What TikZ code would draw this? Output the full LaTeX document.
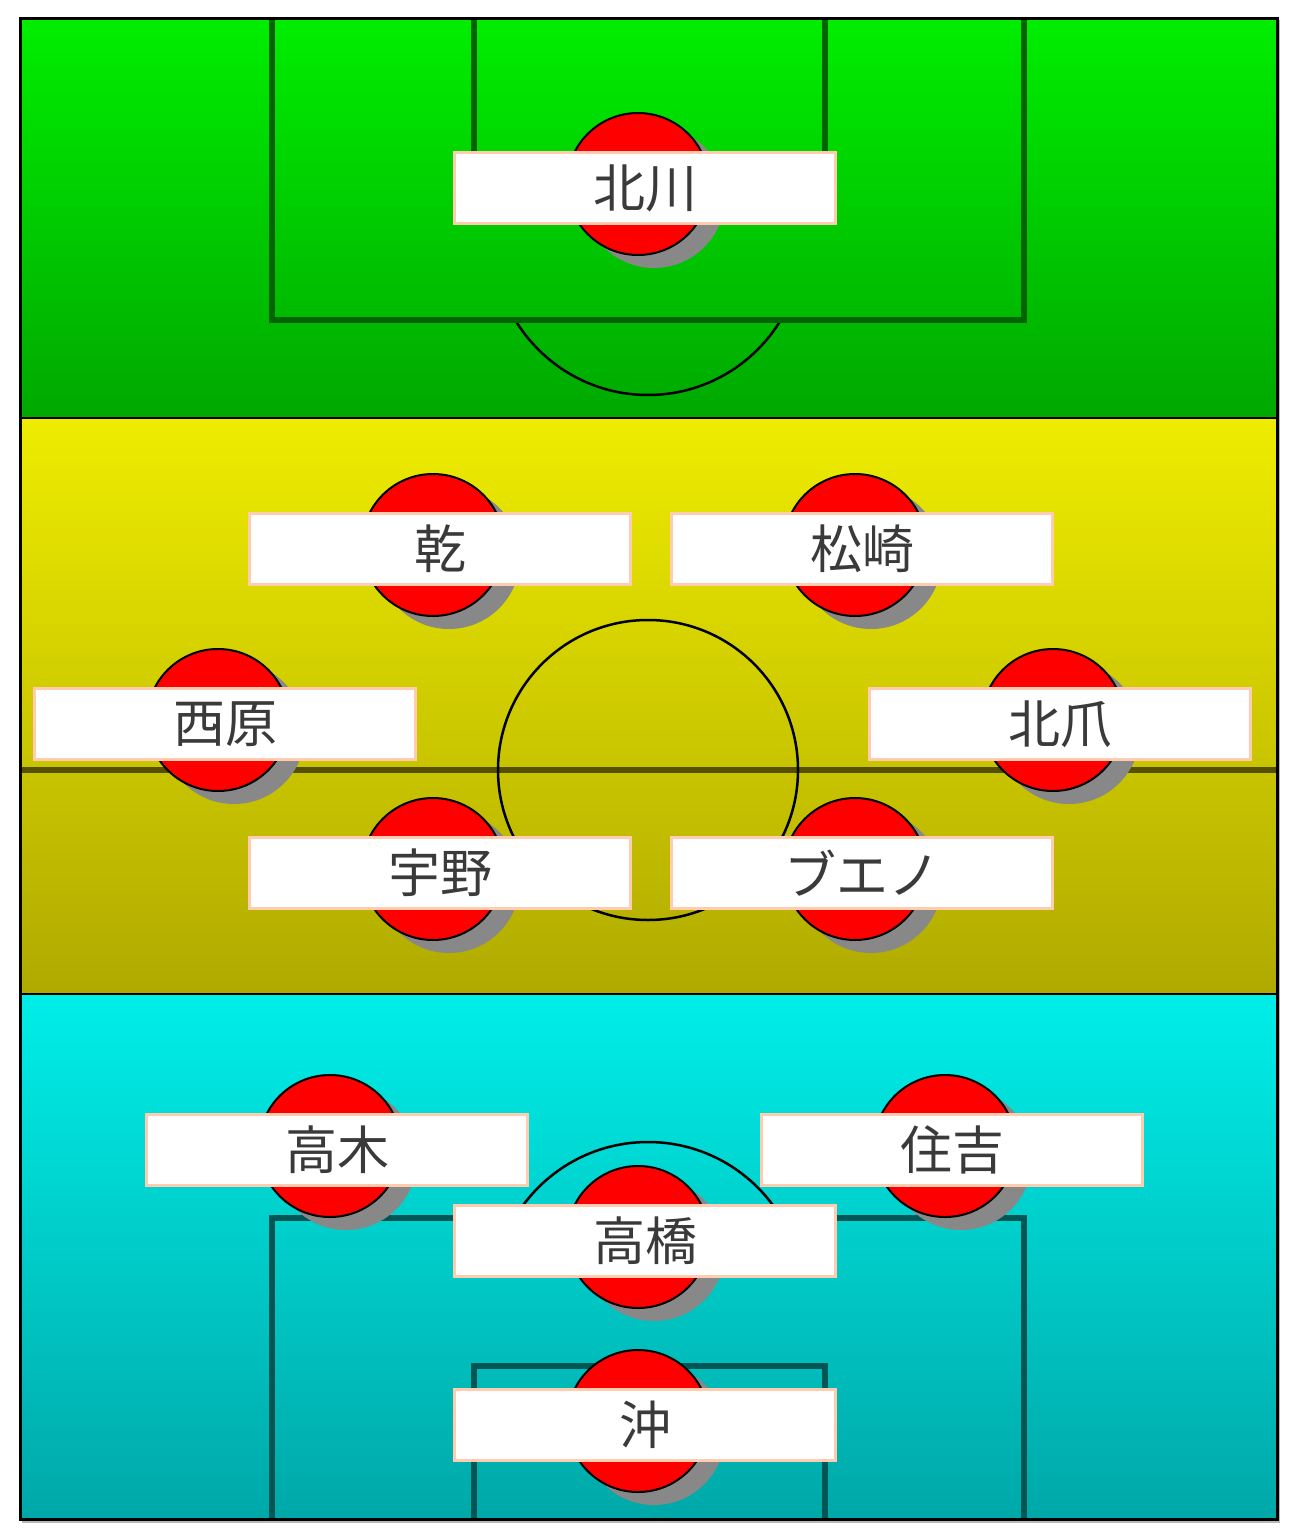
\documentclass[tikz,border=0pt]{standalone}
\usepackage{fontspec}
\newfontfamily\cjk{Noto Sans CJK JP}
\definecolor{gtop}{RGB}{0,238,0}
\definecolor{gbot}{RGB}{0,168,0}
\definecolor{ytop}{RGB}{238,236,0}
\definecolor{ybot}{RGB}{176,170,0}
\definecolor{ctop}{RGB}{0,238,232}
\definecolor{cbot}{RGB}{0,168,168}
\definecolor{gline}{RGB}{0,100,0}
\definecolor{yline}{RGB}{85,80,0}
\definecolor{cline}{RGB}{0,85,85}
\definecolor{peach}{RGB}{255,204,176}
\definecolor{shadowgray}{RGB}{136,136,136}
\definecolor{txt}{RGB}{58,58,58}
\tikzset{
  lab/.style={draw=peach, line width=3pt, fill=white, minimum width=381pt, minimum height=71pt, inner sep=0pt, font=\cjk\fontsize{52}{52}\selectfont, text=txt},
  dot/.style={draw=black, line width=2pt, fill=red},
  pshadow/.style={fill=shadowgray},
  fieldg/.style={draw=gline, line width=6pt},
  fieldc/.style={draw=cline, line width=6pt},
  thin/.style={draw=black, line width=2.5pt}
}
\newcommand{\myplayer}[4]{%
  \fill[pshadow] (#2+16,#3+13) circle[radius=71];
  \draw[dot] (#2,#3) circle[radius=71];
  \node[lab] (#1) at (#2+7,#3+4) {#4};
}
\begin{document}
\begin{tikzpicture}[x=1pt,y=-1pt]
\useasboundingbox (0,0) rectangle (1300,1538);
% backgrounds
\shade[top color=gtop, bottom color=gbot] (20,19) rectangle (1277,418);
\shade[top color=ytop, bottom color=ybot] (20,418) rectangle (1277,994);
\shade[top color=ctop, bottom color=cbot] (20,994) rectangle (1277,1519);
% top field lines
\draw[fieldg] (272,19) -- (272,320) -- (1024,320) -- (1024,19);
\draw[fieldg] (474,19) -- (474,172) -- (825,172) -- (825,19);
\begin{scope}
  \clip (20,323) rectangle (1277,418);
  \draw[thin] (648,240) circle[radius=155];
\end{scope}
% middle
\draw[draw=yline, line width=6pt] (20,770) -- (1277,770);
\draw[thin] (648,770) circle[radius=150];
% bottom field lines
\draw[fieldc] (272,1519) -- (272,1218) -- (1024,1218) -- (1024,1519);
\draw[fieldc] (474,1519) -- (474,1366) -- (825,1366) -- (825,1519);
\begin{scope}
  \clip (20,994) rectangle (1277,1215);
  \draw[thin] (648,1297) circle[radius=155];
\end{scope}
% separators and frame
\draw[black, line width=2pt] (20,418) -- (1277,418);
\draw[black, line width=2pt] (20,994) -- (1277,994);
\draw[shadowgray!60, line width=2pt] (22,1522) -- (1279,1522) -- (1279,20);
\draw[black, line width=3pt] (20,18.5) rectangle (1277,1519.5);
% players
\myplayer{kitagawa}{638}{184}{北川}
\myplayer{inui}{433}{545}{乾}
\myplayer{matsuzaki}{855}{545}{松崎}
\myplayer{nishihara}{218}{720}{西原}
\myplayer{kitazume}{1053}{720}{北爪}
\myplayer{uno}{433}{869}{宇野}
\myplayer{bueno}{855}{869}{ブエノ}
\myplayer{takagi}{330}{1146}{高木}
\myplayer{sumiyoshi}{945}{1146}{住吉}
\myplayer{takahashi}{638}{1237}{高橋}
\myplayer{oki}{638}{1421}{沖}
\end{tikzpicture}
\end{document}
